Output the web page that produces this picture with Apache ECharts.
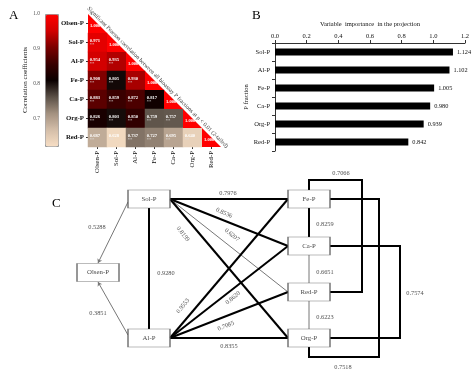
<!DOCTYPE html>
<html><head><meta charset="utf-8">
<script src="https://cdn.jsdelivr.net/npm/echarts@6/dist/echarts.min.js"></script>
<style>html,body{margin:0;padding:0;background:#fff}#c{width:474px;height:380px}</style>
</head><body><div id="c"></div>
<script>
// ---------- Panel A data ----------
const fractions = ['Olsen-P','Sol-P','Al-P','Fe-P','Ca-P','Org-P','Red-P'];
const corrSol = [0.971];
const corrAl  = [0.954, 0.935];
const corrFe  = [0.908, 0.805, 0.930];
const corrCa  = [0.883, 0.859, 0.872, 0.817];
const corrOrg = [0.826, 0.803, 0.850, 0.759, 0.757];
const corrRed = [0.687, 0.628, 0.737, 0.727, 0.695, 0.640];
const corrRows = [[], corrSol, corrAl, corrFe, corrCa, corrOrg, corrRed];
const colorbarTicks = [0.7, 0.8, 0.9, 1.0];
const colorMin = 0.62, colorMax = 1.0;
const noteText = 'Significant Pearson correlation between all bioassay P fractions at p < 0.01 (2-tailed)';

// ---------- Panel B data ----------
const vipCategories = ['Sol-P','Al-P','Fe-P','Ca-P','Org-P','Red-P'];
const vipValues = [1.124, 1.102, 1.005, 0.980, 0.939, 0.842];

// ---------- Panel C data (layout units) ----------
const netNodes = [
  {name:'Sol-P',   x:109, y:39},
  {name:'Al-P',    x:109, y:178},
  {name:'Olsen-P', x:58,  y:112.5},
  {name:'Fe-P',    x:269, y:39},
  {name:'Ca-P',    x:269, y:86},
  {name:'Red-P',   x:269, y:132},
  {name:'Org-P',   x:269, y:178}
];
// straight edges: side = 'h' (right->left), 'v' (bottom->top), 'o' (to Olsen, arrow)
const netEdges = [
  {a:'Sol-P', b:'Olsen-P', r:'0.5288', side:'o', w:'thin', lab:[57,67],   rot:0},
  {a:'Al-P',  b:'Olsen-P', r:'0.3851', side:'o', w:'thin', lab:[58,153],  rot:0},
  {a:'Sol-P', b:'Al-P',    r:'0.9280', side:'v', w:'thick', lab:[126,113], rot:0},
  {a:'Sol-P', b:'Fe-P',    r:'0.7976', side:'h', w:'thick', lab:[188,33],  rot:0},
  {a:'Sol-P', b:'Ca-P',    r:'0.8536', side:'h', w:'thick', lab:[184,53],  rot:-24},
  {a:'Sol-P', b:'Red-P',   r:'0.6207', side:'h', w:'thin',  lab:[192,75],  rot:-38},
  {a:'Sol-P', b:'Org-P',   r:'0.8199', side:'h', w:'thick', lab:[143,74],  rot:-52},
  {a:'Al-P',  b:'Fe-P',    r:'0.9553', side:'h', w:'thick', lab:[143,146], rot:52},
  {a:'Al-P',  b:'Ca-P',    r:'0.8620', side:'h', w:'thick', lab:[193,138], rot:40},
  {a:'Al-P',  b:'Red-P',   r:'0.7085', side:'h', w:'thick', lab:[186,166], rot:22},
  {a:'Al-P',  b:'Org-P',   r:'0.8355', side:'h', w:'thick', lab:[189,186], rot:0},
  {a:'Fe-P',  b:'Ca-P',    r:'0.8259', side:'v', w:'thick', lab:[285,64],  rot:0},
  {a:'Ca-P',  b:'Red-P',   r:'0.6651', side:'v', w:'thin',  lab:[285,112], rot:0},
  {a:'Red-P', b:'Org-P',   r:'0.6223', side:'v', w:'thin',  lab:[285,157], rot:0}
];
// bracket connectors (lane positions in layout units)
const netBrackets = [
  {a:'Fe-P', b:'Red-P', r:'0.7066', route:'topRight',   laneY:20,  laneX:322, lab:[301,13]},
  {a:'Fe-P', b:'Org-P', r:'0.7518', route:'rightBottom',laneX:339, laneY:197, lab:[303,207]},
  {a:'Ca-P', b:'Org-P', r:'0.7574', route:'right',      laneX:360, lab:[375,133]}
];

const SERIF = '"Liberation Serif","Times New Roman",serif';
const BW = 42, BH = 18;
const nodeOf = n => netNodes.find(d => d.name === n);

function edgeCoords(e){
  const A = nodeOf(e.a), B = nodeOf(e.b);
  if (e.side === 'h') return [[A.x + BW/2, A.y], [B.x - BW/2, B.y]];
  if (e.side === 'v') return [[A.x, A.y + BH/2], [B.x, B.y - BH/2]];
  const up = A.y < B.y;
  return [[A.x - BW/2, A.y + (up ? 3 : -3)], [B.x, B.y + (up ? -BH/2 - 0.5 : BH/2 + 0.5)]];
}
function bracketCoords(k){
  const A = nodeOf(k.a), B = nodeOf(k.b);
  if (k.route === 'topRight') return [[A.x, A.y - BH/2], [A.x, k.laneY], [k.laneX, k.laneY], [k.laneX, B.y], [B.x + BW/2, B.y]];
  if (k.route === 'rightBottom') return [[A.x + BW/2, A.y], [k.laneX, A.y], [k.laneX, k.laneY], [B.x, k.laneY], [B.x, B.y + BH/2]];
  return [[A.x + BW/2, A.y], [k.laneX, A.y], [k.laneX, B.y], [B.x + BW/2, B.y]];
}

const heatData = [];
corrRows.forEach((row, r) => row.forEach((v, c) => heatData.push([c, r, v])));

const chart = echarts.init(document.getElementById('c'), null, {renderer:'canvas'});

const thick = {width:2, color:'#000', opacity:1}, thin = {width:1, color:'#777', opacity:1};
const lineData = netEdges.filter(e => e.side !== 'o').map(e => ({coords: edgeCoords(e), lineStyle: e.w === 'thick' ? thick : thin}))
  .concat(netBrackets.map(k => ({coords: bracketCoords(k), lineStyle: thick})));
const arrowData = netEdges.filter(e => e.side === 'o').map(e => ({coords: edgeCoords(e), lineStyle: thin}));
const edgeLabels = netEdges.map(e => ({value:[e.lab[0], e.lab[1]], name:e.r, label:{rotate:e.rot}}))
  .concat(netBrackets.map(k => ({value:[k.lab[0], k.lab[1]], name:k.r, label:{rotate:0}})));

const option = {
  animation: false,
  backgroundColor: '#fff',
  textStyle: {fontFamily: SERIF},
  title: [
    {text:'A', left:4, top:4, textStyle:{fontFamily:SERIF, fontSize:13, fontWeight:'normal', color:'#000'}},
    {text:'B', left:247, top:4, textStyle:{fontFamily:SERIF, fontSize:13, fontWeight:'normal', color:'#000'}},
    {text:'C', left:47, top:192, textStyle:{fontFamily:SERIF, fontSize:13, fontWeight:'normal', color:'#000'}}
  ],
  grid: [
    {left:88, top:14, width:133, height:133},
    {left:275, top:43, width:190, height:108},
    {left:40, top:160, width:400, height:220},
    {left:45, top:14, width:13, height:132}
  ],
  xAxis: [
    {gridIndex:0, type:'category', data:fractions, position:'bottom',
     axisLine:{show:false}, axisTick:{show:true, alignWithLabel:true, length:2, lineStyle:{color:'#333'}},
     axisLabel:{rotate:90, fontSize:6.8, color:'#111', fontFamily:SERIF, margin:4}, splitLine:{show:false}},
    {gridIndex:1, type:'value', position:'top', min:0, max:1.2, interval:0.2,
     name:'Variable  importance  in the projection', nameLocation:'middle', nameGap:15,
     nameTextStyle:{fontSize:6.5, color:'#111', fontFamily:SERIF},
     axisLine:{show:true, lineStyle:{color:'#333', width:1}},
     axisTick:{show:true, inside:false, length:3, lineStyle:{color:'#333'}},
     axisLabel:{fontSize:6.5, color:'#111', margin:3, fontFamily:SERIF, formatter:v => v.toFixed(1)},
     splitLine:{show:false}},
    {gridIndex:2, type:'value', min:0, max:400, show:false},
    {gridIndex:3, type:'value', min:0, max:1, show:false}
  ],
  yAxis: [
    {gridIndex:0, type:'category', data:fractions, inverse:true,
     axisLine:{show:false}, axisTick:{show:true, alignWithLabel:true, length:2, lineStyle:{color:'#333'}},
     axisLabel:{fontSize:6.8, color:'#111', fontFamily:SERIF, fontWeight:'bold', margin:4}, splitLine:{show:false}},
    {gridIndex:1, type:'category', data:vipCategories, inverse:true,
     name:'P fraction', nameLocation:'middle', nameGap:20, nameRotate:90,
     nameTextStyle:{fontSize:6.5, color:'#111', fontFamily:SERIF},
     axisLine:{show:true, lineStyle:{color:'#333', width:1}},
     axisTick:{show:true, length:3, lineStyle:{color:'#333'}},
     axisLabel:{fontSize:6.5, color:'#111', fontFamily:SERIF, margin:5}},
    {gridIndex:2, type:'value', min:0, max:220, inverse:true, show:false},
    {gridIndex:3, type:'value', min:colorMin, max:colorMax, position:'left',
     name:'Correlation coefficients', nameLocation:'middle', nameGap:16, nameRotate:90,
     nameTextStyle:{fontSize:7, color:'#111', fontFamily:SERIF},
     axisLine:{show:false}, axisTick:{show:false}, splitLine:{show:false},
     axisLabel:{fontSize:5.5, color:'#555', margin:5, fontFamily:SERIF,
       customValues: colorbarTicks, formatter: v => v.toFixed(1)}}
  ],
  visualMap: {
    type:'continuous', seriesIndex:0, min:colorMin, max:colorMax,
    orient:'vertical', left:45, top:14, itemWidth:13, itemHeight:132,
    calculable:false, showLabel:false, text:null, padding:0,
    borderColor:'#999', borderWidth:1,
    inRange:{color:['#f7dec4','#d4bea9','#a39180','#5b5047','#0a0000','#380000','#7a0000','#d20000','#ff0000']}
  },
  series: [
    {type:'heatmap', xAxisIndex:0, yAxisIndex:0, data:heatData,
     label:{show:true, position:'insideLeft', distance:2,
       formatter: p => '{v|' + p.value[2].toFixed(3) + '}\n{s|***}',
       rich:{v:{fontSize:4.6, fontWeight:'bold', color:'#fff', fontFamily:SERIF, lineHeight:6},
             s:{fontSize:3, color:'#ddd', lineHeight:3}}},
     itemStyle:{borderWidth:0}},
    {type:'custom', xAxisIndex:0, yAxisIndex:0, data:fractions.map((f,i) => [i, i]),
     renderItem(params, api){
       const c = api.coord([api.value(0), api.value(1)]);
       const s = api.size([1,1]);
       const x0 = c[0]-s[0]/2, y0 = c[1]-s[1]/2, x1 = c[0]+s[0]/2, y1 = c[1]+s[1]/2;
       return {type:'group', children:[
         {type:'polygon', shape:{points:[[x0,y0],[x0,y1],[x1,y1]]}, style:{fill:'#ff0000'}},
         {type:'text', style:{text:'1.000', x:x0+2, y:c[1]+2, fill:'#fff', fontSize:4.6, fontWeight:'bold', fontFamily:SERIF, verticalAlign:'middle'}}
       ]};
     }},
    {type:'custom', xAxisIndex:0, yAxisIndex:0, data:[[0, 0]],
     renderItem(params, api){
       const n = fractions.length - 1;
       const s = api.size([1,1]);
       const a = api.coord([0, 0]), b = api.coord([n, n]);
       const p0 = [a[0]-s[0]/2, a[1]-s[1]/2], p1 = [b[0]+s[0]/2, b[1]+s[1]/2];
       const mx = (p0[0]+p1[0])/2 + 1, my = (p0[1]+p1[1])/2 - 1;
       return {type:'group', children:[
         {type:'text', x:mx, y:my, rotation:-Math.PI/4,
          style:{text:noteText, align:'center', verticalAlign:'bottom', fill:'#333', fontSize:5.8, fontFamily:SERIF}}
       ]};
     }},
    {type:'bar', xAxisIndex:1, yAxisIndex:1, data:vipValues, barWidth:7,
     itemStyle:{color:'#000'},
     label:{show:true, position:'right', distance:4, fontSize:6.3, color:'#111', fontFamily:SERIF,
       formatter: p => p.value.toFixed(3)}},
    {type:'lines', coordinateSystem:'cartesian2d', xAxisIndex:2, yAxisIndex:2, polyline:true,
     lineStyle:{opacity:1}, data:lineData, z:2},
    {type:'lines', coordinateSystem:'cartesian2d', xAxisIndex:2, yAxisIndex:2,
     symbol:['none','arrow'], symbolSize:4, lineStyle:{opacity:1}, data:arrowData, z:2},
    {type:'scatter', xAxisIndex:2, yAxisIndex:2, z:3, symbol:'rect', symbolSize:[BW, BH],
     data: netNodes.map(n => ({value:[n.x, n.y], name:n.name})),
     itemStyle:{color:'#fff', borderColor:'#555', borderWidth:1},
     label:{show:true, position:'inside', formatter:'{b}', fontSize:6.8, color:'#111', fontFamily:SERIF}},
    {type:'scatter', xAxisIndex:2, yAxisIndex:2, z:4, symbolSize:0, data:edgeLabels,
     label:{show:true, position:'inside', formatter:'{b}', fontSize:6.3, color:'#222', fontFamily:SERIF}},
    {type:'scatter', xAxisIndex:3, yAxisIndex:3, data:[], silent:true}
  ]
};
chart.setOption(option);
</script></body></html>
